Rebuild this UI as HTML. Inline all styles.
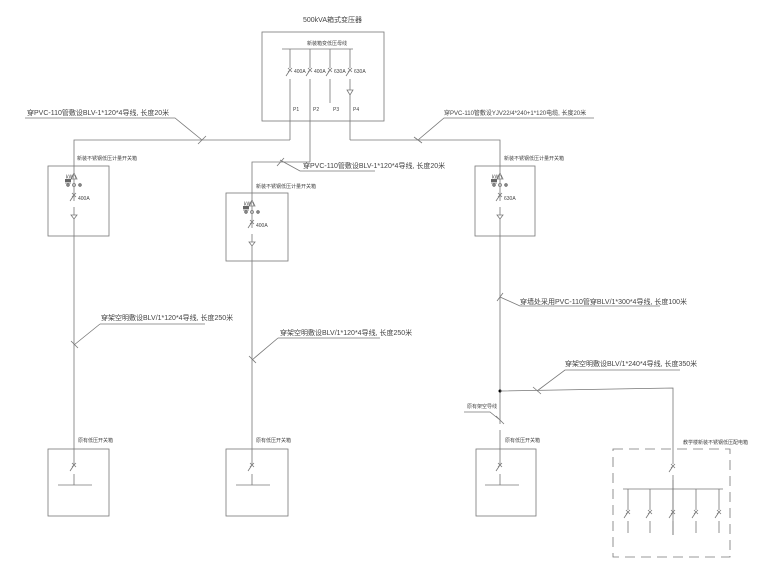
<!DOCTYPE html>
<html><head><meta charset="utf-8"><style>
body{margin:0;background:#fff;width:760px;height:570px;overflow:hidden}
svg{display:block}
text{font-family:"Liberation Sans","Noto Sans CJK SC",sans-serif;fill:#444}
.s{font-size:5px}
.m{font-size:7px}
</style></head><body>
<svg width="760" height="570" viewBox="0 0 760 570" xmlns="http://www.w3.org/2000/svg" stroke="#777" stroke-width="0.8" fill="none">
<defs>
<g id="mb">
<path d="M0 0V7M-3 13L0 7L3 13Z"/>
<rect x="-9" y="13" width="6" height="3" fill="#666" stroke="none"/>
<path d="M-9 17H-3"/>
<text class="s" x="-8" y="12.5" stroke="none">kWh</text>
<path d="M0 13V35"/>
<circle cx="0" cy="19" r="1.5"/>
<path d="M-6 17V21M-8 19H-4M6 17V21M4 19H8"/>
<circle cx="-6" cy="19" r="1.3"/><circle cx="6" cy="19" r="1.3"/>
<path d="M-2 27L2 31M2 27L-2 31M0 29L-4 35M0 41V49M-3 49L0 53L3 49Z M0 53V60"/>
</g>
<g id="sw"><path d="M-2 -2L2 2M2 -2L-2 2M0 0L-4 6M0 9V14"/></g>
</defs>

<!-- transformer -->
<text class="m" x="303" y="22" stroke="none">500kVA箱式变压器</text>
<rect x="262" y="32" width="122" height="89"/>
<text class="s" x="307" y="45" stroke="none">新装箱变低压母线</text>
<path d="M282 49H353"/>
<path d="M290 49V68M310 49V68M330 49V68M350 49V68"/>
<use href="#sw" x="290" y="70"/><use href="#sw" x="310" y="70"/><use href="#sw" x="330" y="70"/><use href="#sw" x="350" y="70"/>
<path d="M290 84V140M310 84V162M330 84V103M350 84V90M347 90L350 95L353 90ZM350 95V140"/>
<text class="s" x="294" y="73" stroke="none">400A</text>
<text class="s" x="314" y="73" stroke="none">400A</text>
<text class="s" x="334" y="73" stroke="none">630A</text>
<text class="s" x="354" y="73" stroke="none">630A</text>
<text class="s" x="293" y="111" stroke="none">P1</text>
<text class="s" x="313" y="111" stroke="none">P2</text>
<text class="s" x="333" y="111" stroke="none">P3</text>
<text class="s" x="353" y="111" stroke="none">P4</text>

<!-- feeders -->
<path d="M290 140H74V166"/>
<path d="M310 162H252V193"/>
<path d="M350 140H500V166"/>
<!-- leader P1 -->
<text class="m" x="27" y="115" stroke="none">穿PVC-110管敷设BLV-1*120*4导线, 长度20米</text>
<path d="M25 118H175L202 140M198 144L206 136"/>
<!-- leader P2 -->
<path d="M280 160L300 171H375M277 166L284 158"/>
<text class="m" x="303" y="168" stroke="none">穿PVC-110管敷设BLV-1*120*4导线, 长度20米</text>
<!-- leader P4 -->
<text class="s" x="444" y="115" stroke="none" style="font-size:6px">穿PVC-110管敷设YJV22/4*240+1*120电缆, 长度20米</text>
<path d="M594 118H444L418 140M414 137L422 143"/>

<!-- meter boxes -->
<rect x="48" y="166" width="61" height="70"/>
<text class="s" x="77" y="160" stroke="none">新装不锈钢低压计量开关箱</text>
<use href="#mb" x="74" y="166"/>
<text class="s" x="78" y="200" stroke="none">400A</text>
<rect x="226" y="193" width="62" height="68"/>
<text class="s" x="256" y="188" stroke="none">新装不锈钢低压计量开关箱</text>
<use href="#mb" x="252" y="193"/>
<text class="s" x="256" y="227" stroke="none">400A</text>
<rect x="475" y="166" width="60" height="70"/>
<text class="s" x="504" y="160" stroke="none">新装不锈钢低压计量开关箱</text>
<use href="#mb" x="500" y="166"/>
<text class="s" x="504" y="200" stroke="none">630A</text>

<!-- lower verticals -->
<path d="M74 226V449M252 253V449M500 226V424M500 430V449"/>
<!-- leader lower left -->
<text class="m" x="101" y="320" stroke="none">穿架空明敷设BLV/1*120*4导线, 长度250米</text>
<path d="M100 324H205M100 324L74 345M71 341L78 348"/>
<text class="m" x="280" y="335" stroke="none">穿架空明敷设BLV/1*120*4导线, 长度250米</text>
<path d="M278 338H380M278 338L252 360M249 356L256 363"/>
<!-- right -->
<text class="m" x="520" y="304" stroke="none">穿墙处采用PVC-110管穿BLV/1*300*4导线, 长度100米</text>
<path d="M660 306H520L500 297M497 301L503 293"/>
<circle cx="500" cy="391" r="1.5" fill="#000" stroke="none"/>
<path d="M500 391L673 388V535"/>
<text class="m" x="565" y="366" stroke="none">穿架空明敷设BLV/1*240*4导线, 长度350米</text>
<path d="M680 370H565L537 391M533 387L541 394"/>
<text class="s" x="467" y="408" stroke="none">原有架空导线</text>
<path d="M464 412H490L500 420M496 416L504 424"/>

<!-- existing boxes -->
<g>
<text class="s" x="78" y="442" stroke="none">原有低压开关箱</text>
<rect x="48" y="449" width="61" height="67"/>
<use href="#sw" x="74" y="465"/><path d="M74 465V449M58 485H92M74 479V485"/>
<text class="s" x="256" y="442" stroke="none">原有低压开关箱</text>
<rect x="226" y="449" width="62" height="67"/>
<use href="#sw" x="252" y="465"/><path d="M252 465V449M236 485H270M252 479V485"/>
<text class="s" x="505" y="442" stroke="none">原有低压开关箱</text>
<rect x="476" y="449" width="60" height="67"/>
<use href="#sw" x="500" y="465"/><path d="M500 465V449M485 485H519M500 479V485"/>
</g>

<!-- dashed distribution box -->
<text class="s" x="683" y="444" stroke="none">教学楼新装不锈钢低压配电箱</text>
<rect x="613" y="449" width="117" height="108" stroke-dasharray="10,6"/>
<rect x="668" y="464" width="10" height="16" fill="#fff" stroke="none"/>
<use href="#sw" x="673" y="466"/><path d="M673 480V489"/>
<path d="M623 489H723M628 489V510M650 489V510M696 489V510M719 489V510M673 489V510"/>
<use href="#sw" x="628" y="512"/><use href="#sw" x="650" y="512"/><use href="#sw" x="673" y="512"/><use href="#sw" x="696" y="512"/><use href="#sw" x="719" y="512"/>
<path d="M628 526V533M650 526V533M673 526V535M696 526V533M719 526V533"/>
</svg>
</body></html>
